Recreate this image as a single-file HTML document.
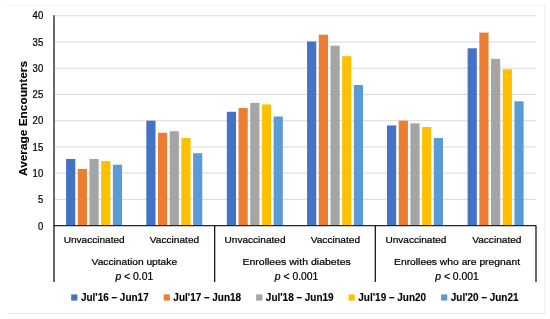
<!DOCTYPE html>
<html><head><meta charset="utf-8"><title>Chart</title><style>html,body{margin:0;padding:0;background:#fff}text{stroke:#000;stroke-width:0.22px}text.b{stroke-width:0.12px}</style></head><body>
<svg width="550" height="319" viewBox="0 0 550 319" style="display:block;font-family:'Liberation Sans',sans-serif">
<rect width="550" height="319" fill="#fff"/>
<path d="M5 5.3H544.7" fill="none" stroke="#f7f7f7" stroke-width="1"/>
<path d="M544.7 5V313.5H6.5" fill="none" stroke="#ebebeb" stroke-width="1"/>
<line x1="54.0" x2="536.0" y1="199.38" y2="199.38" stroke="#D9D9D9" stroke-width="1"/>
<line x1="54.0" x2="536.0" y1="173.15" y2="173.15" stroke="#D9D9D9" stroke-width="1"/>
<line x1="54.0" x2="536.0" y1="146.93" y2="146.93" stroke="#D9D9D9" stroke-width="1"/>
<line x1="54.0" x2="536.0" y1="120.70" y2="120.70" stroke="#D9D9D9" stroke-width="1"/>
<line x1="54.0" x2="536.0" y1="94.48" y2="94.48" stroke="#D9D9D9" stroke-width="1"/>
<line x1="54.0" x2="536.0" y1="68.25" y2="68.25" stroke="#D9D9D9" stroke-width="1"/>
<line x1="54.0" x2="536.0" y1="42.03" y2="42.03" stroke="#D9D9D9" stroke-width="1"/>
<line x1="54.0" x2="536.0" y1="15.80" y2="15.80" stroke="#D9D9D9" stroke-width="1"/>
<rect x="66.07" y="158.99" width="9.2" height="66.61" fill="#4472C4"/>
<rect x="77.77" y="168.95" width="9.2" height="56.65" fill="#ED7D31"/>
<rect x="89.47" y="158.99" width="9.2" height="66.61" fill="#A5A5A5"/>
<rect x="101.17" y="161.09" width="9.2" height="64.51" fill="#FFC000"/>
<rect x="112.87" y="164.76" width="9.2" height="60.84" fill="#5B9BD5"/>
<rect x="146.30" y="120.70" width="9.2" height="104.90" fill="#4472C4"/>
<rect x="158.00" y="132.76" width="9.2" height="92.84" fill="#ED7D31"/>
<rect x="169.70" y="131.19" width="9.2" height="94.41" fill="#A5A5A5"/>
<rect x="181.40" y="138.01" width="9.2" height="87.59" fill="#FFC000"/>
<rect x="193.10" y="153.22" width="9.2" height="72.38" fill="#5B9BD5"/>
<rect x="226.83" y="111.78" width="9.2" height="113.82" fill="#4472C4"/>
<rect x="238.53" y="108.11" width="9.2" height="117.49" fill="#ED7D31"/>
<rect x="250.23" y="102.87" width="9.2" height="122.73" fill="#A5A5A5"/>
<rect x="261.93" y="104.44" width="9.2" height="121.16" fill="#FFC000"/>
<rect x="273.63" y="116.50" width="9.2" height="109.10" fill="#5B9BD5"/>
<rect x="307.07" y="41.50" width="9.2" height="184.10" fill="#4472C4"/>
<rect x="318.77" y="34.68" width="9.2" height="190.92" fill="#ED7D31"/>
<rect x="330.47" y="45.70" width="9.2" height="179.90" fill="#A5A5A5"/>
<rect x="342.17" y="56.19" width="9.2" height="169.41" fill="#FFC000"/>
<rect x="353.87" y="85.03" width="9.2" height="140.57" fill="#5B9BD5"/>
<rect x="387.00" y="125.42" width="9.2" height="100.18" fill="#4472C4"/>
<rect x="398.70" y="120.70" width="9.2" height="104.90" fill="#ED7D31"/>
<rect x="410.40" y="123.32" width="9.2" height="102.28" fill="#A5A5A5"/>
<rect x="422.10" y="126.99" width="9.2" height="98.61" fill="#FFC000"/>
<rect x="433.80" y="138.01" width="9.2" height="87.59" fill="#5B9BD5"/>
<rect x="467.63" y="48.32" width="9.2" height="177.28" fill="#4472C4"/>
<rect x="479.33" y="32.58" width="9.2" height="193.02" fill="#ED7D31"/>
<rect x="491.03" y="58.81" width="9.2" height="166.79" fill="#A5A5A5"/>
<rect x="502.73" y="69.30" width="9.2" height="156.30" fill="#FFC000"/>
<rect x="514.43" y="101.29" width="9.2" height="124.31" fill="#5B9BD5"/>
<line x1="54.0" x2="54.0" y1="15.3" y2="282" stroke="#2a2a2a" stroke-width="1.4"/>
<line x1="53.3" x2="536.0" y1="225.6" y2="225.6" stroke="#262626" stroke-width="1.4"/>
<line x1="214.67" x2="214.67" y1="225.6" y2="282" stroke="#1a1a1a" stroke-width="1.3"/>
<line x1="375.33" x2="375.33" y1="225.6" y2="282" stroke="#1a1a1a" stroke-width="1.3"/>
<line x1="536.00" x2="536.00" y1="225.6" y2="282" stroke="#1a1a1a" stroke-width="1.3"/>
<text x="43.2" y="230" font-size="10" text-anchor="end" textLength="5.2" lengthAdjust="spacingAndGlyphs" fill="#000">0</text>
<text x="43.2" y="203" font-size="10" text-anchor="end" textLength="5.2" lengthAdjust="spacingAndGlyphs" fill="#000">5</text>
<text x="43.2" y="177" font-size="10" text-anchor="end" textLength="10.6" lengthAdjust="spacingAndGlyphs" fill="#000">10</text>
<text x="43.2" y="151" font-size="10" text-anchor="end" textLength="10.6" lengthAdjust="spacingAndGlyphs" fill="#000">15</text>
<text x="43.2" y="124" font-size="10" text-anchor="end" textLength="10.6" lengthAdjust="spacingAndGlyphs" fill="#000">20</text>
<text x="43.2" y="98" font-size="10" text-anchor="end" textLength="10.6" lengthAdjust="spacingAndGlyphs" fill="#000">25</text>
<text x="43.2" y="72" font-size="10" text-anchor="end" textLength="10.6" lengthAdjust="spacingAndGlyphs" fill="#000">30</text>
<text x="43.2" y="46" font-size="10" text-anchor="end" textLength="10.6" lengthAdjust="spacingAndGlyphs" fill="#000">35</text>
<text x="43.2" y="19" font-size="10" text-anchor="end" textLength="10.6" lengthAdjust="spacingAndGlyphs" fill="#000">40</text>
<text transform="translate(27.0,118.5) rotate(-90)" font-size="11.8" font-weight="bold" class="b" text-anchor="middle" textLength="115" lengthAdjust="spacingAndGlyphs" fill="#000">Average Encounters</text>
<text x="94.17" y="243.2" font-size="9.7" text-anchor="middle" textLength="61" lengthAdjust="spacingAndGlyphs" fill="#000">Unvaccinated</text>
<text x="174.50" y="243.2" font-size="9.7" text-anchor="middle" textLength="49.3" lengthAdjust="spacingAndGlyphs" fill="#000">Vaccinated</text>
<text x="255.03" y="243.2" font-size="9.7" text-anchor="middle" textLength="61" lengthAdjust="spacingAndGlyphs" fill="#000">Unvaccinated</text>
<text x="335.37" y="243.2" font-size="9.7" text-anchor="middle" textLength="49.3" lengthAdjust="spacingAndGlyphs" fill="#000">Vaccinated</text>
<text x="415.90" y="243.2" font-size="9.7" text-anchor="middle" textLength="61" lengthAdjust="spacingAndGlyphs" fill="#000">Unvaccinated</text>
<text x="496.83" y="243.2" font-size="9.7" text-anchor="middle" textLength="49.3" lengthAdjust="spacingAndGlyphs" fill="#000">Vaccinated</text>
<text x="134.33" y="264.7" font-size="9.7" text-anchor="middle" textLength="85.5" lengthAdjust="spacingAndGlyphs" fill="#000">Vaccination uptake</text>
<text x="134.33" y="279.8" font-size="10" text-anchor="middle" textLength="37.7" lengthAdjust="spacingAndGlyphs" fill="#000"><tspan font-style="italic">p</tspan> &lt; 0.01</text>
<text x="296.60" y="264.7" font-size="9.7" text-anchor="middle" textLength="108.4" lengthAdjust="spacingAndGlyphs" fill="#000">Enrollees with diabetes</text>
<text x="296.60" y="279.8" font-size="10" text-anchor="middle" textLength="43.6" lengthAdjust="spacingAndGlyphs" fill="#000"><tspan font-style="italic">p</tspan> &lt; 0.001</text>
<text x="457.07" y="264.7" font-size="9.7" text-anchor="middle" textLength="126" lengthAdjust="spacingAndGlyphs" fill="#000">Enrollees who are pregnant</text>
<text x="457.07" y="279.8" font-size="10" text-anchor="middle" textLength="43.6" lengthAdjust="spacingAndGlyphs" fill="#000"><tspan font-style="italic">p</tspan> &lt; 0.001</text>
<rect x="71.20" y="294.4" width="6.2" height="6.2" fill="#4472C4"/>
<text x="80.90" y="301" font-size="10.6" font-weight="bold" class="b" textLength="67.8" lengthAdjust="spacingAndGlyphs" fill="#000">Jul'16 – Jun17</text>
<rect x="163.67" y="294.4" width="6.2" height="6.2" fill="#ED7D31"/>
<text x="173.37" y="301" font-size="10.6" font-weight="bold" class="b" textLength="67.8" lengthAdjust="spacingAndGlyphs" fill="#000">Jul'17 – Jun18</text>
<rect x="256.14" y="294.4" width="6.2" height="6.2" fill="#A5A5A5"/>
<text x="265.84" y="301" font-size="10.6" font-weight="bold" class="b" textLength="67.8" lengthAdjust="spacingAndGlyphs" fill="#000">Jul'18 – Jun19</text>
<rect x="348.61" y="294.4" width="6.2" height="6.2" fill="#FFC000"/>
<text x="358.31" y="301" font-size="10.6" font-weight="bold" class="b" textLength="67.8" lengthAdjust="spacingAndGlyphs" fill="#000">Jul'19 – Jun20</text>
<rect x="441.08" y="294.4" width="6.2" height="6.2" fill="#5B9BD5"/>
<text x="450.78" y="301" font-size="10.6" font-weight="bold" class="b" textLength="67.8" lengthAdjust="spacingAndGlyphs" fill="#000">Jul'20 – Jun21</text>
</svg>
</body></html>
